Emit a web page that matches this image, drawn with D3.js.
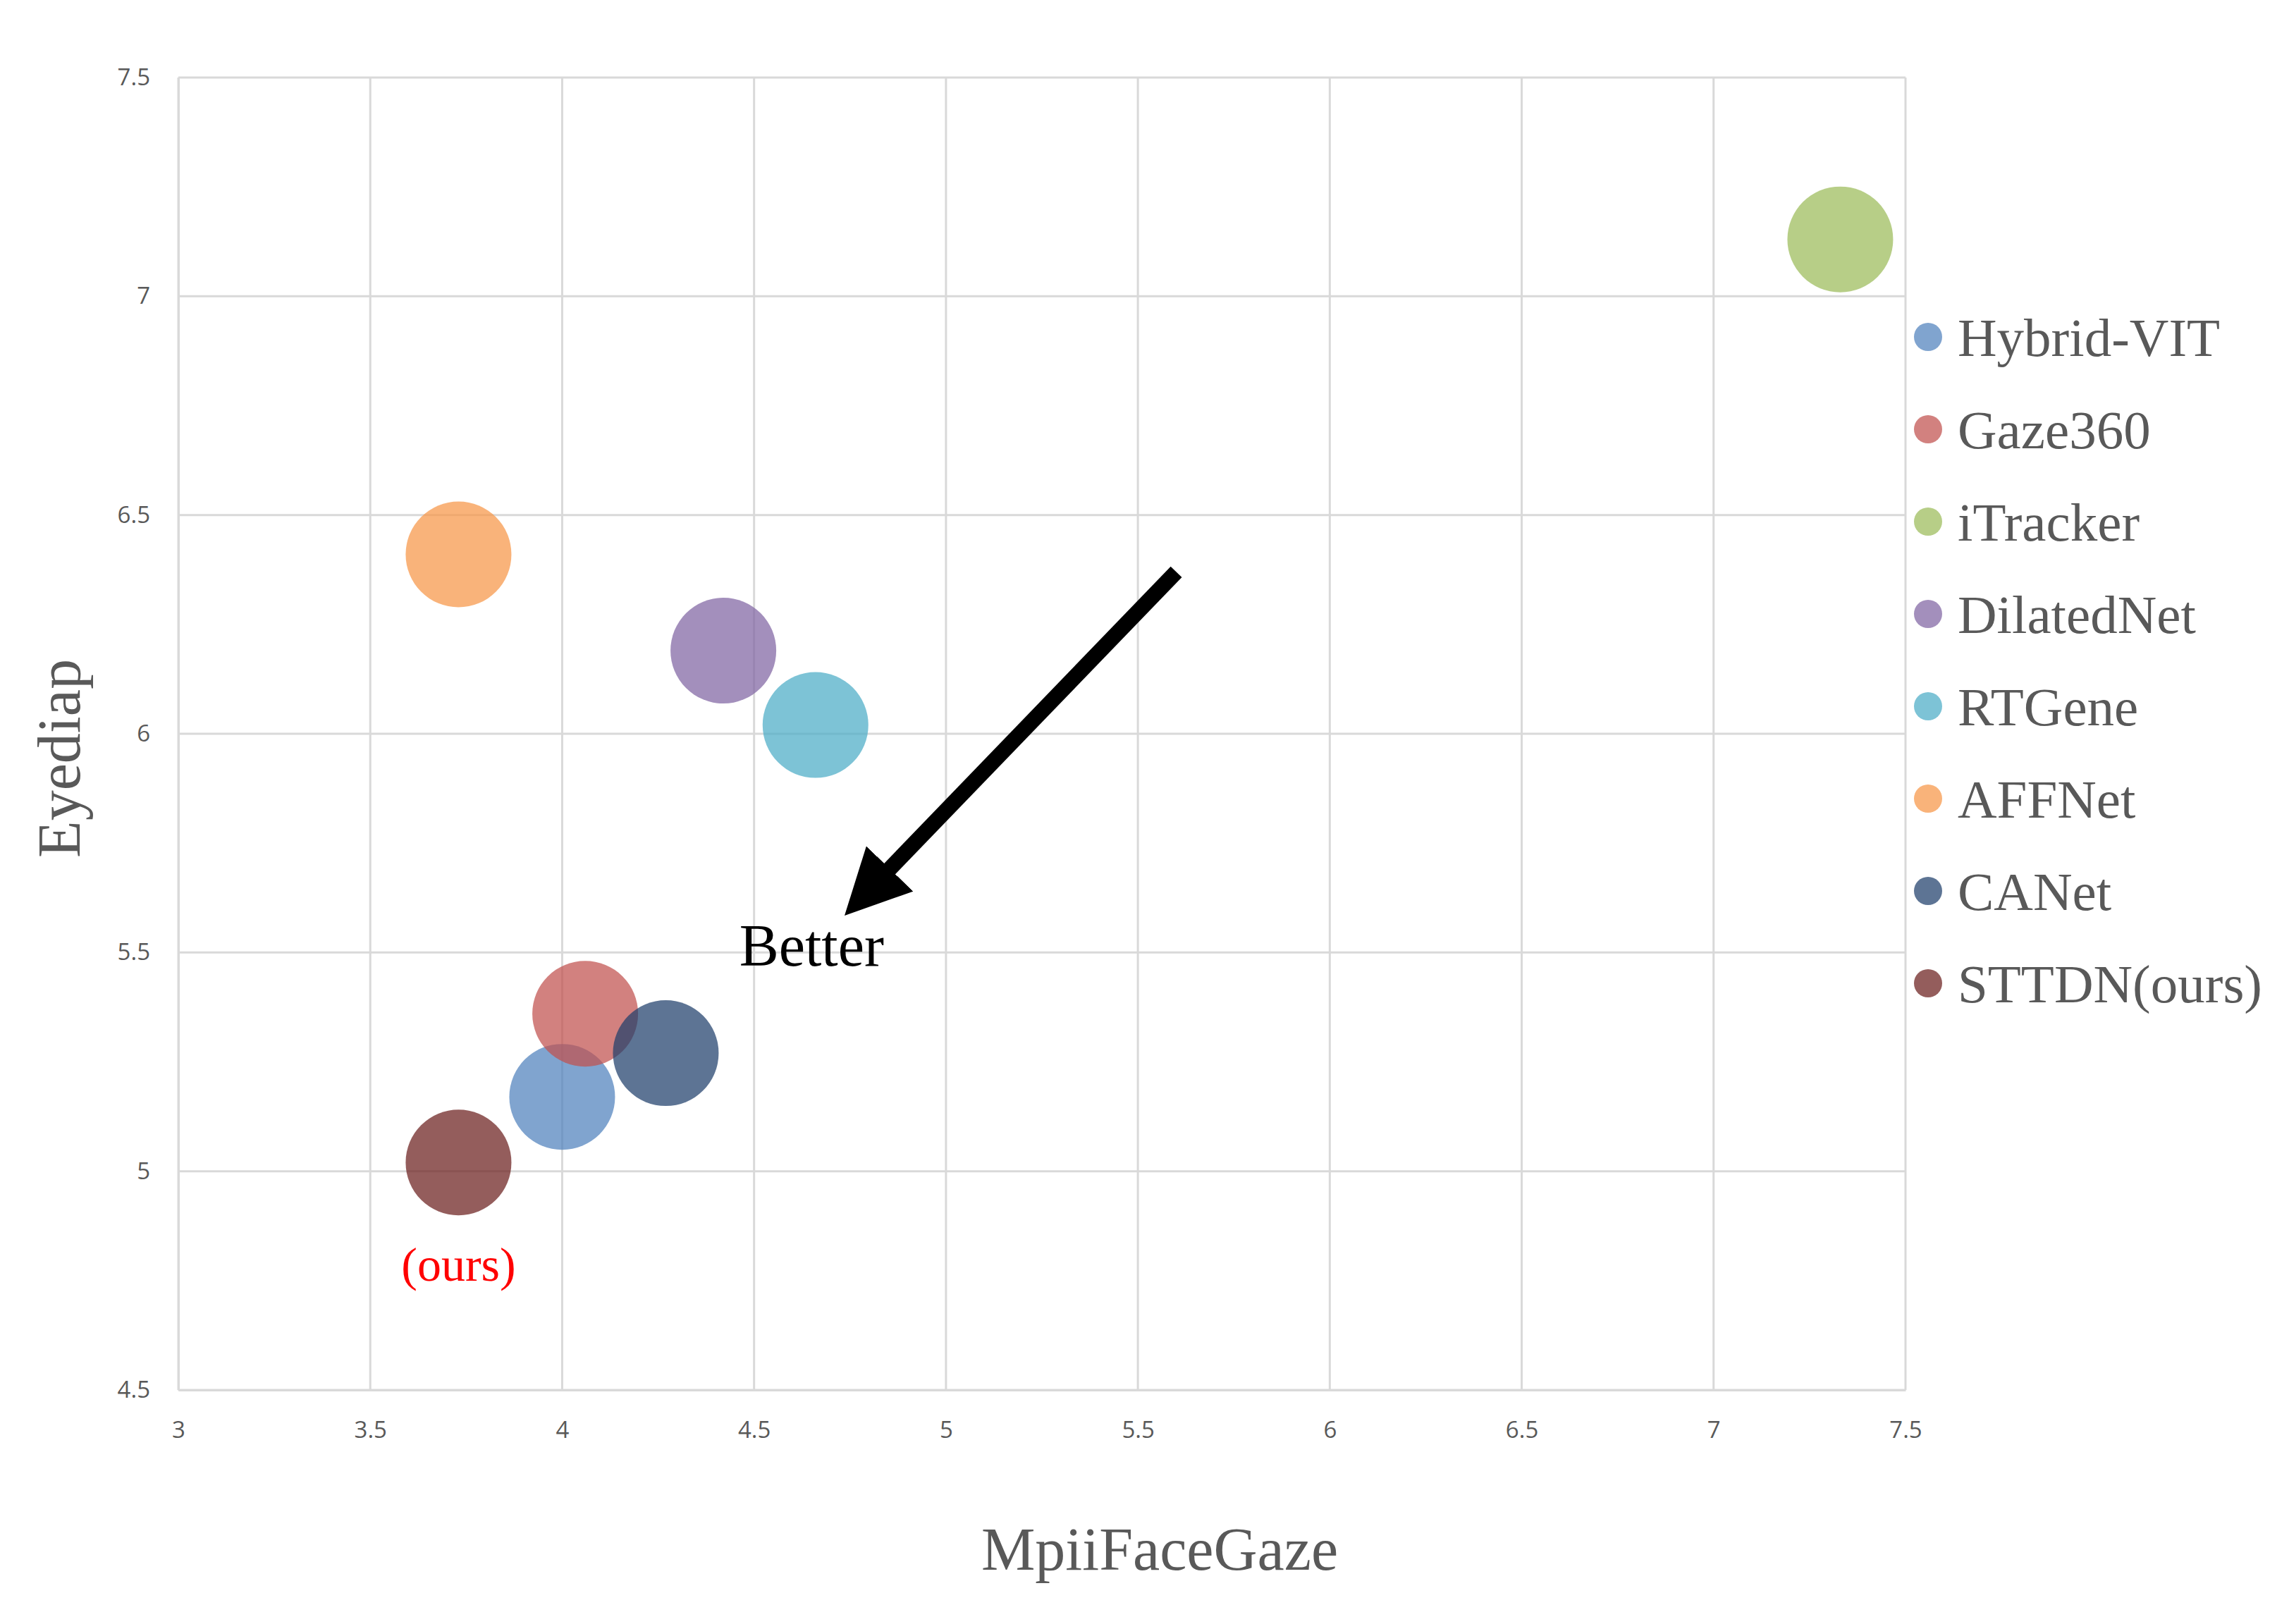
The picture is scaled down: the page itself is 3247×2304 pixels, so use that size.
<!DOCTYPE html>
<html>
<head>
  <meta charset="utf-8">
  <script src="https://d3js.org/d3.v7.min.js"></script>
  <style>
    body { margin: 0; background: #fff; }
    .tick text { font-family: "Open Sans", sans-serif; font-size: 33px; fill: #595959; }
  </style>
</head>
<body>
  <svg class="chart" width="3247" height="2304"></svg>
  <script>
      const WIDTH_ORIG  = 3247;
      const HEIGHT_ORIG = 2304;
      const MARGIN      = { top: 110, left: 253, right: 544, bottom: 332 };
      const WIDTH       = WIDTH_ORIG - MARGIN.left - MARGIN.right;
      const HEIGHT      = HEIGHT_ORIG - MARGIN.top - MARGIN.bottom;
      const SERIF       = "Liberation Serif, Times New Roman, serif";

      // data
      const methods = ["Hybrid-VIT", "Gaze360", "iTracker", "DilatedNet", "RTGene", "AFFNet", "CANet", "STTDN(ours)"];
      const mpii    = [4.0, 4.06, 7.33, 4.42, 4.66, 3.73, 4.27, 3.73];
      const eyediap = [5.17, 5.36, 7.13, 6.19, 6.02, 6.41, 5.27, 5.02];
      const colors  = ["#4F81BD", "#C0504D", "#9BBB59", "#8064A2", "#4BACC6", "#F79646", "#1F3F6B", "#6B1F1D"];
      const xTicks  = [3, 3.5, 4, 4.5, 5, 5.5, 6, 6.5, 7, 7.5];
      const yTicks  = [4.5, 5, 5.5, 6, 6.5, 7, 7.5];

      const svg = d3.select(".chart").append("g")
          .attr("transform", `translate(${MARGIN.left}, ${MARGIN.top})`);

      const xScale = d3.scaleLinear().domain([3, 7.5]).range([0, WIDTH]);
      const yScale = d3.scaleLinear().domain([4.5, 7.5]).range([HEIGHT, 0]);

      // grid
      svg.selectAll(".vgrid").data(xTicks).enter().append("line")
        .attr("x1", d => xScale(d)).attr("x2", d => xScale(d))
        .attr("y1", 0).attr("y2", HEIGHT)
        .attr("stroke", "#d9d9d9").attr("stroke-width", 3);
      svg.selectAll(".hgrid").data(yTicks).enter().append("line")
        .attr("y1", d => yScale(d)).attr("y2", d => yScale(d))
        .attr("x1", 0).attr("x2", WIDTH)
        .attr("stroke", "#d9d9d9").attr("stroke-width", 3);

      const xAxis = svg.append("g").attr("transform", `translate(0, ${HEIGHT})`)
        .call(d3.axisBottom(xScale).tickValues(xTicks).tickSize(0).tickPadding(45).tickFormat(d3.format("")));
      const yAxis = svg.append("g")
        .call(d3.axisLeft(yScale).tickValues(yTicks).tickSize(0).tickPadding(40).tickFormat(d3.format("")));
      [xAxis, yAxis].forEach(a => { a.select(".domain").attr("stroke", "#d9d9d9").attr("stroke-width", 3); });

      // axis titles
      svg.append("text")
        .attr("x", WIDTH / 2 + 167).attr("y", HEIGHT + 255)
        .attr("text-anchor", "middle").style("font-family", SERIF).style("font-size", "86px")
        .attr("fill", "#595959").text("MpiiFaceGaze");
      svg.append("text")
        .attr("transform", `translate(-140, ${HEIGHT / 2 + 35}) rotate(-90)`)
        .attr("text-anchor", "middle").style("font-family", SERIF).style("font-size", "86px")
        .attr("fill", "#595959").text("Eyediap");

      // bubbles
      svg.selectAll(".node").data(methods).enter().append("circle")
        .attr("cx", (d, i) => xScale(mpii[i]))
        .attr("cy", (d, i) => yScale(eyediap[i]))
        .attr("r", 75)
        .attr("fill", (d, i) => colors[i])
        .attr("fill-opacity", 0.72);

      // arrow
      const defs = d3.select(".chart").append("defs");
      defs.append("marker").attr("id", "head")
        .attr("viewBox", "0 0 10 10").attr("refX", 2).attr("refY", 5)
        .attr("markerWidth", 4.2).attr("markerHeight", 4.2).attr("orient", "auto")
        .append("path").attr("d", "M0,0 L10,5 L0,10 z").attr("fill", "#000");
      svg.append("line")
        .attr("x1", xScale(5.6)).attr("y1", yScale(6.37))
        .attr("x2", xScale(4.83)).attr("y2", yScale(5.67))
        .attr("stroke", "#000").attr("stroke-width", 22)
        .attr("marker-end", "url(#head)");

      svg.append("text")
        .attr("x", xScale(4.65)).attr("y", yScale(5.47))
        .attr("text-anchor", "middle").style("font-family", SERIF).style("font-size", "84px")
        .attr("fill", "#000").text("Better");
      svg.append("text")
        .attr("x", xScale(3.73)).attr("y", yScale(4.75))
        .attr("text-anchor", "middle").style("font-family", SERIF).style("font-size", "68px")
        .attr("fill", "#ff0000").text("(ours)");

      // legend
      const legend = svg.selectAll(".legend").data(methods).enter().append("g")
        .attr("transform", (d, i) => `translate(${WIDTH + 32}, ${368 + i * 131})`);
      legend.append("circle").attr("r", 20)
        .attr("fill", (d, i) => colors[i]).attr("fill-opacity", 0.72);
      legend.append("text").attr("x", 42).attr("dy", "0.35em")
        .style("font-family", SERIF).style("font-size", "77px")
        .attr("fill", "#595959").text(d => d);
  </script>
</body>
</html>
